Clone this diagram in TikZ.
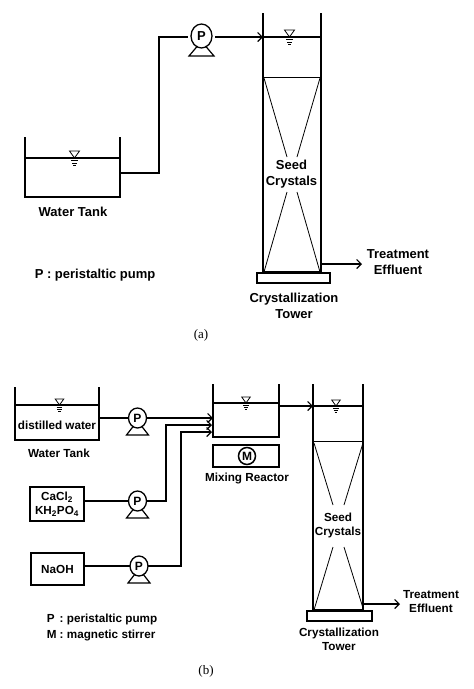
\documentclass[tikz,border=0pt]{standalone}
\usepackage{fontspec}
\setmainfont{Liberation Sans}
\newfontfamily\capfont{Liberation Serif}
\usetikzlibrary{arrows.meta,positioning,calc,shapes.geometric}
\begin{document}
\begin{tikzpicture}[x=1pt,y=-1pt,font=\bfseries\fontsize{13}{16}\selectfont,line width=1.5pt,
  vessel/.style={draw, inner sep=0pt, outer sep=0pt},
  pumpA/.style={draw, ellipse, inner sep=0pt, outer sep=0pt, minimum width=21pt, minimum height=24pt, line width=1.3pt},
  pumpB/.style={draw, ellipse, inner sep=0pt, outer sep=0pt, minimum width=18pt, minimum height=20pt, line width=1.3pt},
  lab/.style={align=center, inner sep=0pt},
  labs/.style={align=center, inner sep=0pt, font=\bfseries\fontsize{11.7}{14}\selectfont},
  pipe/.style={line width=1.3pt},
  flow/.style={pipe, -{Straight Barb[length=4.5pt,width=9pt,line width=1.2pt]}},
  captext/.style={inner sep=0pt, font=\capfont\fontsize{13}{15}\selectfont},
  thin line/.style={line width=0.8pt},
]
\useasboundingbox (0,0) rectangle (474,689);
% ---- panel (a) ----
\node[vessel, minimum width=95pt, minimum height=39pt] (tankA) at (72.5,177.5){};
\draw (tankA.north west) -- ++(0,-21) (tankA.north east) -- ++(0,-21);
\coordinate (outA) at ($(tankA.north east)+(0,15)$);
\node[vessel, minimum width=58pt, minimum height=235pt] (towerA) at (292,154.5){};
\draw (towerA.north west) -- ++(0,-24) (towerA.north east) -- ++(0,-24);
\node[vessel, minimum width=73pt, minimum height=10pt] (baseA) at (293.5,278){};
\node[pumpA] (pumpA1) at (201.5,36){\fontsize{13}{13}\selectfont P};
\draw[pipe] (outA) -- (159,173) -- (159,37) -- ++(29,0);
\draw[flow] (215,37) -- (towerA.north west);
\draw[flow] (321,264) -- (362,264);
\draw[thin line] (264,77.5) -- (320,77.5);
\draw[thin line] (264,78) -- (287,157) (320,78) -- (297,157) (264,272) -- (287,192) (320,272) -- (297,192);
\node[lab] (wtA) at (73,212){Water Tank};
\node[lab] (seedA) at (291.5,174){Seed\\Crystals};
\node[lab] (effA) at (398,262){Treatment\\Effluent};
\node[lab] (ctA) at (294,306){Crystallization\\Tower};
\node[lab, anchor=west] (keyA) at (34,275){P : peristaltic pump};
\node[captext] (capA) at (201,335){(a)};
% ---- panel (b) ----
\node[vessel, minimum width=84pt, minimum height=35pt] (tankB) at (57,422.5){};
\draw (tankB.north west) -- ++(0,-18) (tankB.north east) -- ++(0,-18);
\node[vessel, minimum width=54pt, minimum height=34pt, align=center, labs] (saltB) at (57,504){};
\node[vessel, minimum width=53pt, minimum height=32pt, labs] (naohB) at (57.5,569){NaOH};
\node[vessel, minimum width=66pt, minimum height=34pt] (mixB) at (246,420){};
\draw (mixB.north west) -- ++(0,-19) (mixB.north east) -- ++(0,-19);
\node[vessel, minimum width=66pt, minimum height=22pt] (stirB) at (246,456){};
\node[draw, circle, inner sep=0pt, minimum size=17pt, font=\bfseries\fontsize{12}{12}\selectfont] (stirM) at (247,456){M};
\node[vessel, minimum width=50pt, minimum height=204pt] (towerB) at (338,508){};
\draw (towerB.north west) -- ++(0,-22) (towerB.north east) -- ++(0,-22);
\node[vessel, minimum width=65pt, minimum height=10pt] (baseB) at (339.5,616){};
\foreach \n/\x/\y in {pumpB1/137.5/418, pumpB2/137.5/501, pumpB3/139/566}{
  \node[pumpB] (\n) at (\x,\y){\fontsize{12}{12}\selectfont P};
}
\draw[pipe] (pumpB1 -| tankB.east) -- (pumpB1.west);
\draw[pipe] (pumpB2 -| saltB.east) -- (pumpB2.west);
\draw[pipe] (pumpB3 -| naohB.east) -- (pumpB3.west);
\draw[flow] (pumpB1.east) -- (pumpB1 -| mixB.west);
\draw[flow] (pumpB2.east) -- (166,501) -- (166,425) -- (212,425);
\draw[flow] (pumpB3.east) -- (181,566) -- (181,432) -- (212,432);
\draw[flow] (towerB.north west -| mixB.east) -- (towerB.north west);
\draw[flow] (364,604) -- (400,604);
\draw[thin line] (313,441) -- (363,441);
\draw[thin line] (314,443) -- (333,505) (363,443) -- (344,505) (314,610) -- (333,547) (363,608) -- (344,547);
\node[labs] (dwB) at (57,425){distilled water};
\node[labs] (wtB) at (59,453){Water Tank};
\node[labs] (saltT) at (57,504){CaCl\textsubscript{2}\\KH\textsubscript{2}PO\textsubscript{4}};
\node[labs] (mrB) at (247,478){Mixing Reactor};
\node[labs] (seedB) at (338,525){Seed\\Crystals};
\node[labs] (effB) at (431,602){Treatment\\Effluent};
\node[labs] (ctB) at (339,639){Crystallization\\Tower};
\node[labs, anchor=west] (keyB1) at (46,619){P\, : peristaltic pump};
\node[labs, anchor=west] (keyB2) at (46,635){M : magnetic stirrer};
\node[captext] (capB) at (206,671){(b)};
% ---- pump feet ----
\foreach \n/\w/\h in {pumpA1/12.5/8, pumpB1/11/7, pumpB2/11/7, pumpB3/11/7}{
  \draw[line width=1.2pt, line join=miter] ($(\n.south)+(-4,-2)$) -- ++(-\w+4,\h+2) -- ++(2*\w,0) -- ++(-\w+4,-\h-2);
}
% ---- level marks ----
\foreach \x/\y/\s in {74.5/158/1, 289.5/37/1, 59.5/405/0.85, 246/403/0.85, 336/406/0.85}{
  \draw[line width=0.8pt] (\x-5*\s,\y-7*\s) -- (\x+5*\s,\y-7*\s) -- (\x,\y) -- cycle;
  \draw[line width=0.8pt] (\x-3.5*\s,\y+2.5*\s) -- (\x+3.5*\s,\y+2.5*\s) (\x-2.5*\s,\y+5*\s) -- (\x+2.5*\s,\y+5*\s) (\x-1.5*\s,\y+7.5*\s) -- (\x+1.5*\s,\y+7.5*\s);
}
\end{tikzpicture}
\end{document}
